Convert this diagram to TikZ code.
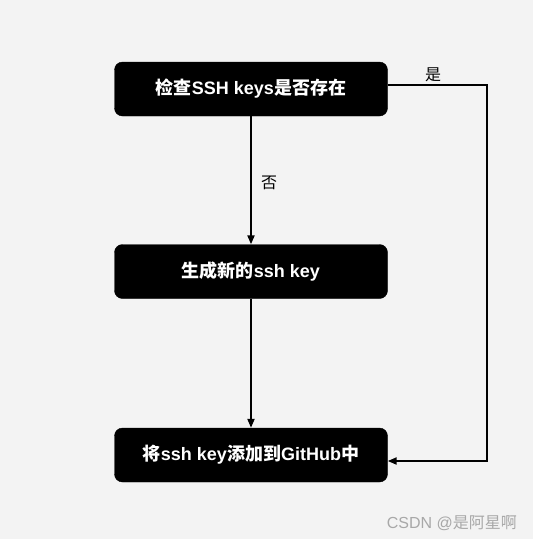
\documentclass[tikz,border=0pt]{standalone}
\usepackage{fontspec}
\setmainfont{Liberation Sans}
\newfontfamily\cjk{Noto Sans CJK SC}
\newfontfamily\cjkb{Noto Sans CJK SC Bold}
\usetikzlibrary{arrows.meta}
\definecolor{bg}{HTML}{F3F3F3}
\definecolor{wm}{HTML}{A8A8A8}
\begin{document}
\begin{tikzpicture}[x=1pt,y=-1pt,
  stepbox/.style={draw=black,fill=black,rounded corners=8pt,minimum width=273pt,minimum height=54pt,
    text=white,font=\fontsize{18}{21}\selectfont\bfseries,inner sep=0pt},
  conn/.style={draw=black,line width=2pt,-{Triangle[length=9pt,width=7pt]}},
  lbl/.style={font=\fontsize{16}{19}\selectfont\cjk,text=black,inner sep=0pt}]
\fill[bg] (0,0) rectangle (533,539);
\useasboundingbox (0,0) rectangle (533,539);
\node[stepbox] (check) at (251,89) {{\cjkb 检查}SSH keys{\cjkb 是否存在}};
\node[stepbox] (gen) at (251,271.5) {{\cjkb 生成新的}ssh key};
\node[stepbox] (add) at (251,455) {{\cjkb 将}ssh key{\cjkb 添加到}GitHub{\cjkb 中}};
\coordinate (c1) at (487,85);
\coordinate (c2) at (487,461);
\draw[conn] (check.south) -- (gen.north);
\draw[conn] (gen.south) -- (add.north);
\draw[conn] (check.east |- c1) -- (c1) -- (c2) -- (add.east |- c2);
\node[lbl] (yes) at (433,75) {是};
\node[lbl] (no) at (269,183) {否};
\node[font=\fontsize{16}{19}\selectfont,text=wm,anchor=east,inner sep=0pt] (wmk) at (517,523) {CSDN @{\cjk 是阿星啊}};
\end{tikzpicture}
\end{document}
